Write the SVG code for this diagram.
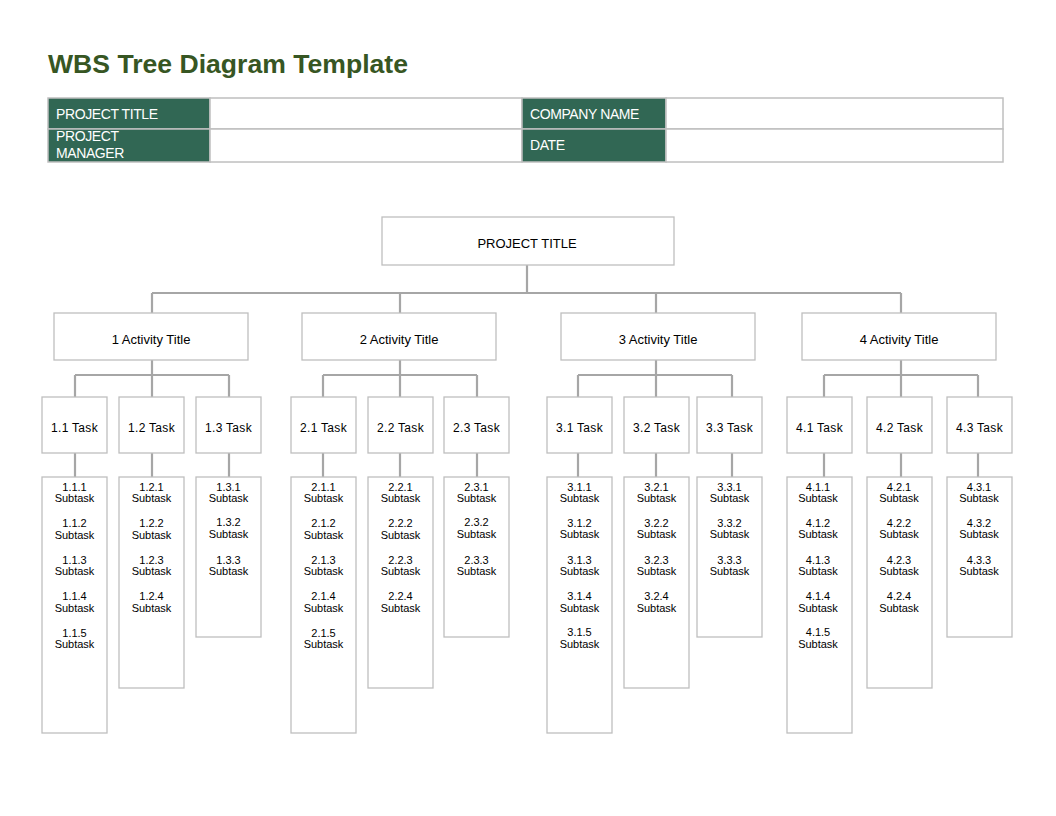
<svg xmlns="http://www.w3.org/2000/svg" width="1056" height="816" viewBox="0 0 1056 816">
<style>
.bg{fill:#ffffff}
.title{font-family:"Liberation Sans",Arial,sans-serif;font-size:26px;font-weight:bold;fill:#375623}
.hcell{fill:#316754;stroke:#BFBFBF;stroke-width:1.5}
.wcell{fill:#ffffff;stroke:#BFBFBF;stroke-width:1.5}
.htxt{font-family:"Liberation Sans",Arial,sans-serif;font-size:14px;fill:#ffffff;letter-spacing:-0.4px}
.box{fill:#ffffff;stroke:#BFBFBF;stroke-width:1.3}
.t13{font-family:"Liberation Sans",Arial,sans-serif;font-size:13px;fill:#000000;text-anchor:middle}
.t12{font-family:"Liberation Sans",Arial,sans-serif;font-size:12px;fill:#000000;text-anchor:middle;letter-spacing:0.3px}
.t11{font-family:"Liberation Sans",Arial,sans-serif;font-size:11px;fill:#000000;text-anchor:middle}
.conn{fill:none;stroke:#A6A6A6;stroke-width:2.2}
</style>
<rect class="bg" x="0" y="0" width="1056" height="816"/>
<text class="title" x="48" y="73" textLength="360" lengthAdjust="spacingAndGlyphs">WBS Tree Diagram Template</text>

<g id="header">
  <rect class="hcell" x="48" y="98" width="162" height="31"/>
  <rect class="wcell" x="210" y="98" width="312" height="31"/>
  <rect class="hcell" x="522" y="98" width="144" height="31"/>
  <rect class="wcell" x="666" y="98" width="337" height="31"/>
  <rect class="hcell" x="48" y="129" width="162" height="33"/>
  <rect class="wcell" x="210" y="129" width="312" height="33"/>
  <rect class="hcell" x="522" y="129" width="144" height="33"/>
  <rect class="wcell" x="666" y="129" width="337" height="33"/>
  <text class="htxt" x="56" y="118.5">PROJECT TITLE</text>
  <text class="htxt" x="56" y="141">PROJECT</text>
  <text class="htxt" x="56" y="158">MANAGER</text>
  <text class="htxt" x="530" y="118.5">COMPANY NAME</text>
  <text class="htxt" x="530" y="150">DATE</text>
</g>

<g id="connectors">
  <path class="conn" d="M527 265V293M152 293H901M152 293V313M400 293V313M656 293V313M901 293V313"/>
  <path class="conn" d="M152 360V375M75 375H229M75 375V397M152 375V397M229 375V397"/>
  <path class="conn" d="M400 360V375M323 375H477M323 375V397M400 375V397M477 375V397"/>
  <path class="conn" d="M656 360V375M578 375H732M578 375V397M656 375V397M732 375V397"/>
  <path class="conn" d="M901 360V375M824 375H978M824 375V397M901 375V397M978 375V397"/>
  <path class="conn" d="M75 453V477M152 453V477M229 453V477M323 453V477M400 453V477M477 453V477M578 453V477M656 453V477M732 453V477M824 453V477M901 453V477M978 453V477"/>
</g>

<g id="root">
  <rect class="box" x="382" y="217" width="292" height="48"/>
  <text class="t13" x="527" y="248">PROJECT TITLE</text>
</g>

<g id="act1"><rect class="box" x="54" y="313" width="194" height="47"/><text class="t13" x="151" y="343.5">1 Activity Title</text></g>
<g id="act2"><rect class="box" x="302" y="313" width="194" height="47"/><text class="t13" x="399" y="343.5">2 Activity Title</text></g>
<g id="act3"><rect class="box" x="561" y="313" width="194" height="47"/><text class="t13" x="658" y="343.5">3 Activity Title</text></g>
<g id="act4"><rect class="box" x="802" y="313" width="194" height="47"/><text class="t13" x="899" y="343.5">4 Activity Title</text></g>

<g id="task11"><rect class="box" x="42" y="397" width="65" height="56"/><text class="t12" x="74.5" y="431.5">1.1 Task</text></g>
<g id="task12"><rect class="box" x="119" y="397" width="65" height="56"/><text class="t12" x="151.5" y="431.5">1.2 Task</text></g>
<g id="task13"><rect class="box" x="196" y="397" width="65" height="56"/><text class="t12" x="228.5" y="431.5">1.3 Task</text></g>
<g id="task21"><rect class="box" x="291" y="397" width="65" height="56"/><text class="t12" x="323.5" y="431.5">2.1 Task</text></g>
<g id="task22"><rect class="box" x="368" y="397" width="65" height="56"/><text class="t12" x="400.5" y="431.5">2.2 Task</text></g>
<g id="task23"><rect class="box" x="444" y="397" width="65" height="56"/><text class="t12" x="476.5" y="431.5">2.3 Task</text></g>
<g id="task31"><rect class="box" x="547" y="397" width="65" height="56"/><text class="t12" x="579.5" y="431.5">3.1 Task</text></g>
<g id="task32"><rect class="box" x="624" y="397" width="65" height="56"/><text class="t12" x="656.5" y="431.5">3.2 Task</text></g>
<g id="task33"><rect class="box" x="697" y="397" width="65" height="56"/><text class="t12" x="729.5" y="431.5">3.3 Task</text></g>
<g id="task41"><rect class="box" x="787" y="397" width="65" height="56"/><text class="t12" x="819.5" y="431.5">4.1 Task</text></g>
<g id="task42"><rect class="box" x="867" y="397" width="65" height="56"/><text class="t12" x="899.5" y="431.5">4.2 Task</text></g>
<g id="task43"><rect class="box" x="947" y="397" width="65" height="56"/><text class="t12" x="979.5" y="431.5">4.3 Task</text></g>

<g id="sub11"><rect class="box" x="42" y="477" width="65" height="256"/>
<text class="t11" x="74.5" y="490.5">1.1.1</text><text class="t11" x="74.5" y="502">Subtask</text>
<text class="t11" x="74.5" y="527">1.1.2</text><text class="t11" x="74.5" y="538.5">Subtask</text>
<text class="t11" x="74.5" y="563.5">1.1.3</text><text class="t11" x="74.5" y="575">Subtask</text>
<text class="t11" x="74.5" y="600">1.1.4</text><text class="t11" x="74.5" y="611.5">Subtask</text>
<text class="t11" x="74.5" y="636.5">1.1.5</text><text class="t11" x="74.5" y="648">Subtask</text></g>
<g id="sub12"><rect class="box" x="119" y="477" width="65" height="211"/>
<text class="t11" x="151.5" y="490.5">1.2.1</text><text class="t11" x="151.5" y="502">Subtask</text>
<text class="t11" x="151.5" y="527">1.2.2</text><text class="t11" x="151.5" y="538.5">Subtask</text>
<text class="t11" x="151.5" y="563.5">1.2.3</text><text class="t11" x="151.5" y="575">Subtask</text>
<text class="t11" x="151.5" y="600">1.2.4</text><text class="t11" x="151.5" y="611.5">Subtask</text></g>
<g id="sub13"><rect class="box" x="196" y="477" width="65" height="160"/>
<text class="t11" x="228.5" y="490.5">1.3.1</text><text class="t11" x="228.5" y="502">Subtask</text>
<text class="t11" x="228.5" y="526">1.3.2</text><text class="t11" x="228.5" y="537.5">Subtask</text>
<text class="t11" x="228.5" y="563.5">1.3.3</text><text class="t11" x="228.5" y="575">Subtask</text></g>

<g id="sub21"><rect class="box" x="291" y="477" width="65" height="256"/>
<text class="t11" x="323.5" y="490.5">2.1.1</text><text class="t11" x="323.5" y="502">Subtask</text>
<text class="t11" x="323.5" y="527">2.1.2</text><text class="t11" x="323.5" y="538.5">Subtask</text>
<text class="t11" x="323.5" y="563.5">2.1.3</text><text class="t11" x="323.5" y="575">Subtask</text>
<text class="t11" x="323.5" y="600">2.1.4</text><text class="t11" x="323.5" y="611.5">Subtask</text>
<text class="t11" x="323.5" y="636.5">2.1.5</text><text class="t11" x="323.5" y="648">Subtask</text></g>
<g id="sub22"><rect class="box" x="368" y="477" width="65" height="211"/>
<text class="t11" x="400.5" y="490.5">2.2.1</text><text class="t11" x="400.5" y="502">Subtask</text>
<text class="t11" x="400.5" y="527">2.2.2</text><text class="t11" x="400.5" y="538.5">Subtask</text>
<text class="t11" x="400.5" y="563.5">2.2.3</text><text class="t11" x="400.5" y="575">Subtask</text>
<text class="t11" x="400.5" y="600">2.2.4</text><text class="t11" x="400.5" y="611.5">Subtask</text></g>
<g id="sub23"><rect class="box" x="444" y="477" width="65" height="160"/>
<text class="t11" x="476.5" y="490.5">2.3.1</text><text class="t11" x="476.5" y="502">Subtask</text>
<text class="t11" x="476.5" y="526">2.3.2</text><text class="t11" x="476.5" y="537.5">Subtask</text>
<text class="t11" x="476.5" y="563.5">2.3.3</text><text class="t11" x="476.5" y="575">Subtask</text></g>

<g id="sub31"><rect class="box" x="547" y="477" width="65" height="256"/>
<text class="t11" x="579.5" y="490.5">3.1.1</text><text class="t11" x="579.5" y="502">Subtask</text>
<text class="t11" x="579.5" y="526.5">3.1.2</text><text class="t11" x="579.5" y="538">Subtask</text>
<text class="t11" x="579.5" y="563.5">3.1.3</text><text class="t11" x="579.5" y="575">Subtask</text>
<text class="t11" x="579.5" y="600">3.1.4</text><text class="t11" x="579.5" y="611.5">Subtask</text>
<text class="t11" x="579.5" y="636">3.1.5</text><text class="t11" x="579.5" y="647.5">Subtask</text></g>
<g id="sub32"><rect class="box" x="624" y="477" width="65" height="211"/>
<text class="t11" x="656.5" y="490.5">3.2.1</text><text class="t11" x="656.5" y="502">Subtask</text>
<text class="t11" x="656.5" y="526.5">3.2.2</text><text class="t11" x="656.5" y="538">Subtask</text>
<text class="t11" x="656.5" y="563.5">3.2.3</text><text class="t11" x="656.5" y="575">Subtask</text>
<text class="t11" x="656.5" y="600">3.2.4</text><text class="t11" x="656.5" y="611.5">Subtask</text></g>
<g id="sub33"><rect class="box" x="697" y="477" width="65" height="160"/>
<text class="t11" x="729.5" y="490.5">3.3.1</text><text class="t11" x="729.5" y="502">Subtask</text>
<text class="t11" x="729.5" y="526.5">3.3.2</text><text class="t11" x="729.5" y="538">Subtask</text>
<text class="t11" x="729.5" y="563.5">3.3.3</text><text class="t11" x="729.5" y="575">Subtask</text></g>

<g id="sub41"><rect class="box" x="787" y="477" width="65" height="256"/>
<text class="t11" x="818" y="490.5">4.1.1</text><text class="t11" x="818" y="502">Subtask</text>
<text class="t11" x="818" y="526.5">4.1.2</text><text class="t11" x="818" y="538">Subtask</text>
<text class="t11" x="818" y="563.5">4.1.3</text><text class="t11" x="818" y="575">Subtask</text>
<text class="t11" x="818" y="600">4.1.4</text><text class="t11" x="818" y="611.5">Subtask</text>
<text class="t11" x="818" y="636">4.1.5</text><text class="t11" x="818" y="647.5">Subtask</text></g>
<g id="sub42"><rect class="box" x="867" y="477" width="65" height="211"/>
<text class="t11" x="899" y="490.5">4.2.1</text><text class="t11" x="899" y="502">Subtask</text>
<text class="t11" x="899" y="526.5">4.2.2</text><text class="t11" x="899" y="538">Subtask</text>
<text class="t11" x="899" y="563.5">4.2.3</text><text class="t11" x="899" y="575">Subtask</text>
<text class="t11" x="899" y="600">4.2.4</text><text class="t11" x="899" y="611.5">Subtask</text></g>
<g id="sub43"><rect class="box" x="947" y="477" width="65" height="160"/>
<text class="t11" x="979" y="490.5">4.3.1</text><text class="t11" x="979" y="502">Subtask</text>
<text class="t11" x="979" y="526.5">4.3.2</text><text class="t11" x="979" y="538">Subtask</text>
<text class="t11" x="979" y="563.5">4.3.3</text><text class="t11" x="979" y="575">Subtask</text></g>
</svg>
